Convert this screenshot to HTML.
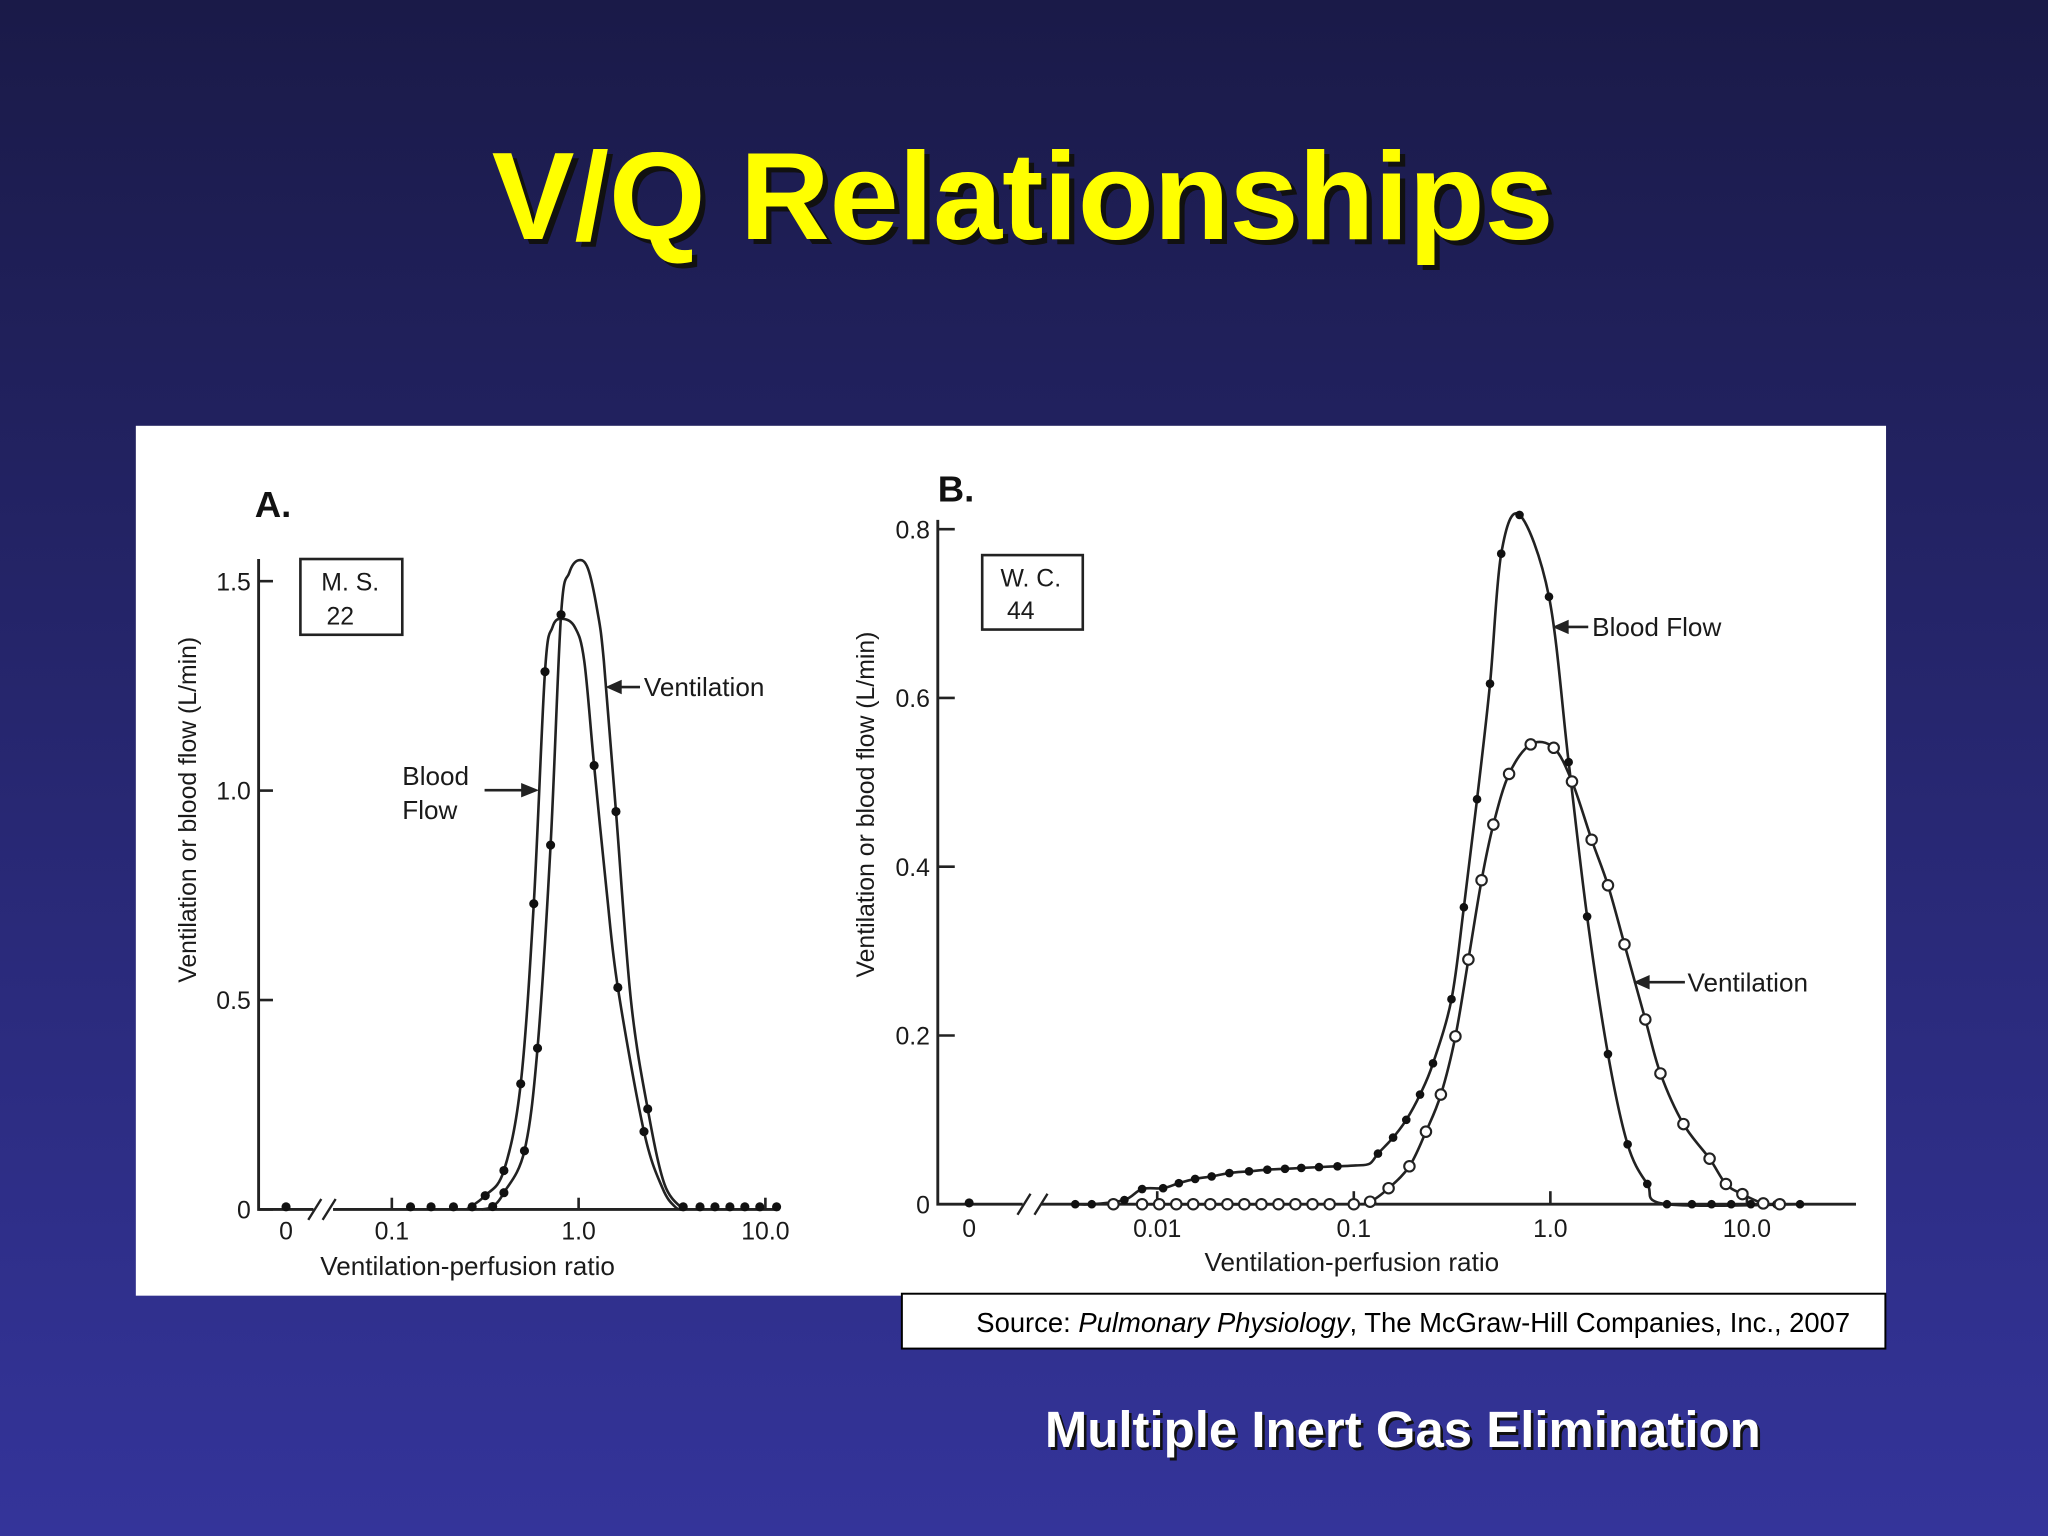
<!DOCTYPE html>
<html><head><meta charset="utf-8"><style>
html,body{margin:0;padding:0;width:2048px;height:1536px;overflow:hidden;background:#242466}
svg{display:block}
text{font-family:"Liberation Sans",sans-serif}
</style></head><body>
<svg id="s" width="2048" height="1536" viewBox="0 0 1568 1176" xmlns="http://www.w3.org/2000/svg">
<defs><linearGradient id="bg" x1="0" y1="0" x2="0" y2="1"><stop offset="0" stop-color="#1a1a48"/><stop offset="1" stop-color="#34349a"/></linearGradient></defs>
<rect width="1568" height="1176" fill="url(#bg)"/>
<text x="787" y="187" text-anchor="middle" font-size="95" font-weight="bold" fill="#111">V/Q Relationships</text>
<text x="783" y="183" text-anchor="middle" font-size="95" font-weight="bold" fill="#ffff00">V/Q Relationships</text>
<rect x="104" y="326" width="1340" height="666" fill="#fff"/>
<rect x="690.5" y="990.5" width="753" height="42" fill="#fff" stroke="#000" stroke-width="1.5"/>
<text x="1082" y="1020" text-anchor="middle" font-size="21" fill="#000">Source: <tspan font-style="italic">Pulmonary Physiology</tspan>, The McGraw-Hill Companies, Inc., 2007</text>
<text x="1076" y="1110" text-anchor="middle" font-size="39" font-weight="bold" fill="#111">Multiple Inert Gas Elimination</text>
<text x="1074" y="1108" text-anchor="middle" font-size="39" font-weight="bold" fill="#fff">Multiple Inert Gas Elimination</text>
<g id="gA"></g>
<g id="gB"></g>
</svg>
<script>
const aBloodCurve=[[-0.6,0],[-0.5,0.033],[-0.40,0.093],[-0.31,0.30],[-0.24,0.73],[-0.18,1.284],[-0.14,1.39],[-0.09,1.41],[-0.02,1.39],[0.03,1.31],[0.083,1.06],[0.15,0.76],[0.21,0.53],[0.35,0.186],[0.45,0.05],[0.52,0.005],[0.56,0]];
const aVentCurve=[[-0.52,0],[-0.46,0.007],[-0.40,0.04],[-0.29,0.14],[-0.22,0.385],[-0.15,0.87],[-0.094,1.42],[-0.05,1.52],[0,1.55],[0.05,1.53],[0.10,1.43],[0.135,1.31],[0.20,0.95],[0.28,0.5],[0.37,0.24],[0.46,0.06],[0.56,0]];
const aDots=[[-0.5,0.033],[-0.40,0.093],[-0.31,0.30],[-0.24,0.73],[-0.18,1.284],[-0.46,0.007],[-0.40,0.04],[-0.29,0.14],[-0.22,0.385],[-0.15,0.87],[-0.094,1.42],[0.083,1.06],[0.20,0.95],[0.21,0.53],[0.35,0.186],[0.37,0.24],
 [-0.90,0],[-0.79,0],[-0.67,0],[-0.57,0],[0.56,0],[0.65,0],[0.73,0],[0.81,0],[0.89,0],[0.97,0],[1.06,0]];
const aYTicks=[0,0.5,1.0,1.5];
const aYLabels=["0","0.5","1.0","1.5"];
const aXTicks=[-1,0,1];
const aXLabels=["0.1","1.0","10.0"];
const bBloodCurve=[[-2.42,0],[-2.33,0],[-2.167,0.005],[-2.077,0.018],[-1.97,0.019],[-1.89,0.025],[-1.807,0.03],[-1.723,0.033],[-1.633,0.037],[-1.533,0.039],[-1.44,0.041],[-1.35,0.042],[-1.267,0.043],[-1.177,0.044],[-1.083,0.045],[-0.99,0.046],[-0.92,0.048],[-0.877,0.06],[-0.80,0.079],[-0.733,0.100],[-0.663,0.130],[-0.597,0.167],[-0.503,0.243],[-0.44,0.352],[-0.373,0.480],[-0.307,0.617],[-0.25,0.771],[-0.157,0.817],[-0.007,0.720],[0.093,0.524],[0.187,0.341],[0.293,0.178],[0.393,0.071],[0.493,0.024],[0.593,0],[1.27,0]];
const bBloodDots=[[-2.417,0],[-2.333,0],[-2.167,0.005],[-2.077,0.018],[-1.97,0.019],[-1.89,0.025],[-1.807,0.03],[-1.723,0.033],[-1.633,0.037],[-1.533,0.039],[-1.44,0.041],[-1.35,0.042],[-1.267,0.043],[-1.177,0.044],[-1.083,0.045],[-0.877,0.06],[-0.80,0.079],[-0.733,0.100],[-0.663,0.130],[-0.597,0.167],[-0.503,0.243],[-0.44,0.352],[-0.373,0.480],[-0.307,0.617],[-0.25,0.771],[-0.157,0.817],[-0.007,0.720],[0.093,0.524],[0.187,0.341],[0.293,0.178],[0.393,0.071],[0.493,0.024],[0.593,0],[0.72,0],[0.82,0],[0.92,0],[1.02,0],[1.15,0],[1.27,0]];
const bVentCurve=[[-2.223,0],[-1.0,0],[-0.917,0.003],[-0.823,0.019],[-0.717,0.045],[-0.633,0.086],[-0.557,0.130],[-0.483,0.199],[-0.417,0.290],[-0.35,0.384],[-0.29,0.450],[-0.21,0.510],[-0.10,0.545],[0.017,0.541],[0.11,0.501],[0.21,0.432],[0.293,0.378],[0.377,0.308],[0.483,0.219],[0.56,0.155],[0.677,0.095],[0.81,0.054],[0.893,0.024],[0.977,0.012],[1.083,0.001],[1.167,0]];
const bVentDots=[[-2.223,0],[-2.077,0],[-1.99,0],[-1.903,0],[-1.817,0],[-1.73,0],[-1.643,0],[-1.557,0],[-1.47,0],[-1.383,0],[-1.297,0],[-1.21,0],[-1.123,0],[-1.0,0],[-0.917,0.003],[-0.823,0.019],[-0.717,0.045],[-0.633,0.086],[-0.557,0.130],[-0.483,0.199],[-0.417,0.290],[-0.35,0.384],[-0.29,0.450],[-0.21,0.510],[-0.10,0.545],[0.017,0.541],[0.11,0.501],[0.21,0.432],[0.293,0.378],[0.377,0.308],[0.483,0.219],[0.56,0.155],[0.677,0.095],[0.81,0.054],[0.893,0.024],[0.977,0.012],[1.083,0.001],[1.167,0]];
const bYTicks=[0,0.2,0.4,0.6,0.8];
const bYLabels=["0","0.2","0.4","0.6","0.8"];
const bXTicks=[-2,-1,0,1];
const bXLabels=["0.01","0.1","1.0","10.0"];

const NS="http://www.w3.org/2000/svg";
function mk(parent,tag,attrs,txt){const e=document.createElementNS(NS,tag);for(const k in attrs)e.setAttribute(k,attrs[k]);if(txt!==undefined)e.textContent=txt;parent.appendChild(e);return e;}
function smooth(pts){let d="M"+pts[0][0]+","+pts[0][1];for(let i=0;i<pts.length-1;i++){const p0=pts[i-1]||pts[i],p1=pts[i],p2=pts[i+1],p3=pts[i+2]||p2;const c1x=p1[0]+(p2[0]-p0[0])/6,c1y=p1[1]+(p2[1]-p0[1])/6,c2x=p2[0]-(p3[0]-p1[0])/6,c2y=p2[1]-(p3[1]-p1[1])/6;d+=` C${c1x},${c1y} ${c2x},${c2y} ${p2[0]},${p2[1]}`;}return d;}
const TXT="#1a1a1a";

const gA=document.getElementById('gA');
const ax=v=>443+143*v, ay=v=>926-320.7*v;
mk(gA,'text',{x:195,y:396,'font-size':28,'font-weight':'bold',fill:'#111',},'A.');
let e=mk(gA,'path',{d:'M198,428 V926 H240 M255,926 H596',stroke:'#222','stroke-width':2.2,fill:'none'});


e=mk(gA,'path',{d:'M236,934 L246,918 M247,934 L257,918',stroke:'#222','stroke-width':1.8,fill:'none'});


aYTicks.forEach((t,i)=>{
 e=mk(gA,'line',{x1:198,x2:209,y1:ay(t),y2:ay(t),stroke:'#222','stroke-width':2});
 
 
 e=mk(gA,'text',{x:192,y:ay(t)+7,'text-anchor':'end','font-size':19,fill:TXT},aYLabels[i]);
 
 
});
aXTicks.forEach((t,i)=>{
 e=mk(gA,'line',{x1:ax(t),x2:ax(t),y1:926,y2:917,stroke:'#222','stroke-width':2});
 
 
 e=mk(gA,'text',{x:ax(t),y:949,'text-anchor':'middle','font-size':19,fill:TXT},aXLabels[i]);
 
 
});
mk(gA,'text',{x:219,y:949,'text-anchor':'middle','font-size':19,fill:TXT,},'0');
mk(gA,'circle',{cx:219,cy:924,r:3.5,fill:'#111',});
mk(gA,'text',{x:358,y:976,'text-anchor':'middle','font-size':20,fill:TXT,},'Ventilation-perfusion ratio');
mk(gA,'text',{x:0,y:0,transform:'translate(150,620) rotate(-90)','text-anchor':'middle','font-size':19,fill:TXT,},'Ventilation or blood flow (L/min)');
mk(gA,'rect',{x:230,y:428,width:78,height:58,fill:'none',stroke:'#222','stroke-width':2,});
mk(gA,'text',{x:246,y:452,'font-size':19,fill:TXT,},'M. S.');
mk(gA,'text',{x:250,y:478,'font-size':19,fill:TXT,},'22');
e=mk(gA,'path',{d:smooth(aBloodCurve.map(p=>[ax(p[0]),ay(p[1])])),stroke:'#222','stroke-width':2,fill:'none'});


e=mk(gA,'path',{d:smooth(aVentCurve.map(p=>[ax(p[0]),ay(p[1])])),stroke:'#222','stroke-width':2,fill:'none'});


aDots.forEach(p=>{
 e=mk(gA,'circle',{cx:ax(p[0]),cy:ay(p[1])-(p[1]===0?2:0),r:3.5,fill:'#111'});
 
 
});
mk(gA,'path',{d:'M468,526 H490 M466,526 l9,-4 v8 z',stroke:'#222','stroke-width':2,fill:'#222',});
mk(gA,'text',{x:493,y:533,'font-size':20,fill:TXT,},'Ventilation');
mk(gA,'path',{d:'M371,605 H400 M410,605 l-10,-4 v8 z',stroke:'#222','stroke-width':2,fill:'#222',});
mk(gA,'text',{x:308,y:601,'font-size':20,fill:TXT,},'Blood');
mk(gA,'text',{x:308,y:627,'font-size':20,fill:TXT,},'Flow');

const gB=document.getElementById('gB');
const bx=v=>1187+150.5*v, by=v=>922-646*v;
mk(gB,'text',{x:718,y:384,'font-size':28,'font-weight':'bold',fill:'#111',},'B.');
e=mk(gB,'path',{d:'M718,398 V922 H783 M797,922 H1421',stroke:'#222','stroke-width':2.2,fill:'none'});


e=mk(gB,'path',{d:'M779,930 L789,914 M792,930 L802,914',stroke:'#222','stroke-width':1.8,fill:'none'});


bYTicks.forEach((t,i)=>{
 e=mk(gB,'line',{x1:718,x2:731,y1:by(t),y2:by(t),stroke:'#222','stroke-width':2});
 
 
 e=mk(gB,'text',{x:712,y:by(t)+7,'text-anchor':'end','font-size':19,fill:TXT},bYLabels[i]);
 
 
});
bXTicks.forEach((t,i)=>{
 e=mk(gB,'line',{x1:bx(t),x2:bx(t),y1:922,y2:912,stroke:'#222','stroke-width':2});
 
 
 e=mk(gB,'text',{x:bx(t),y:947,'text-anchor':'middle','font-size':19,fill:TXT},bXLabels[i]);
 
 
});
mk(gB,'text',{x:742,y:947,'text-anchor':'middle','font-size':19,fill:TXT,},'0');
mk(gB,'circle',{cx:742,cy:921,r:3.5,fill:'#111',});
mk(gB,'text',{x:1035,y:973,'text-anchor':'middle','font-size':20,fill:TXT,'xml:space':'preserve'},'Ventilation-perfusion  ratio');
mk(gB,'text',{x:0,y:0,transform:'translate(669,616) rotate(-90)','text-anchor':'middle','font-size':19,fill:TXT,},'Ventilation or blood flow (L/min)');
mk(gB,'rect',{x:752,y:425,width:77,height:57,fill:'none',stroke:'#222','stroke-width':2,});
mk(gB,'text',{x:766,y:449,'font-size':19,fill:TXT,},'W. C.');
mk(gB,'text',{x:771,y:474,'font-size':19,fill:TXT,},'44');
e=mk(gB,'path',{d:smooth(bBloodCurve.map(p=>[bx(p[0]),by(p[1])])),stroke:'#222','stroke-width':2,fill:'none'});


e=mk(gB,'path',{d:smooth(bVentCurve.map(p=>[bx(p[0]),by(p[1])])),stroke:'#222','stroke-width':2,fill:'none'});


bBloodDots.forEach(p=>{
 e=mk(gB,'circle',{cx:bx(p[0]),cy:by(p[1]),r:3.3,fill:'#111'});
 
 
});
bVentDots.forEach(p=>{
 e=mk(gB,'circle',{cx:bx(p[0]),cy:by(p[1]),r:4,fill:'#fff',stroke:'#222','stroke-width':1.6});
 
 
});
mk(gB,'path',{d:'M1194,480 H1216 M1191,480 l9,-4 v8 z',stroke:'#222','stroke-width':2,fill:'#222',});
mk(gB,'text',{x:1219,y:487,'font-size':20,fill:TXT,},'Blood Flow');
mk(gB,'path',{d:'M1256,752 H1290 M1253,752 l9,-4 v8 z',stroke:'#222','stroke-width':2,fill:'#222',});
mk(gB,'text',{x:1292,y:759,'font-size':20,fill:TXT,},'Ventilation');
</script>
</body></html>
